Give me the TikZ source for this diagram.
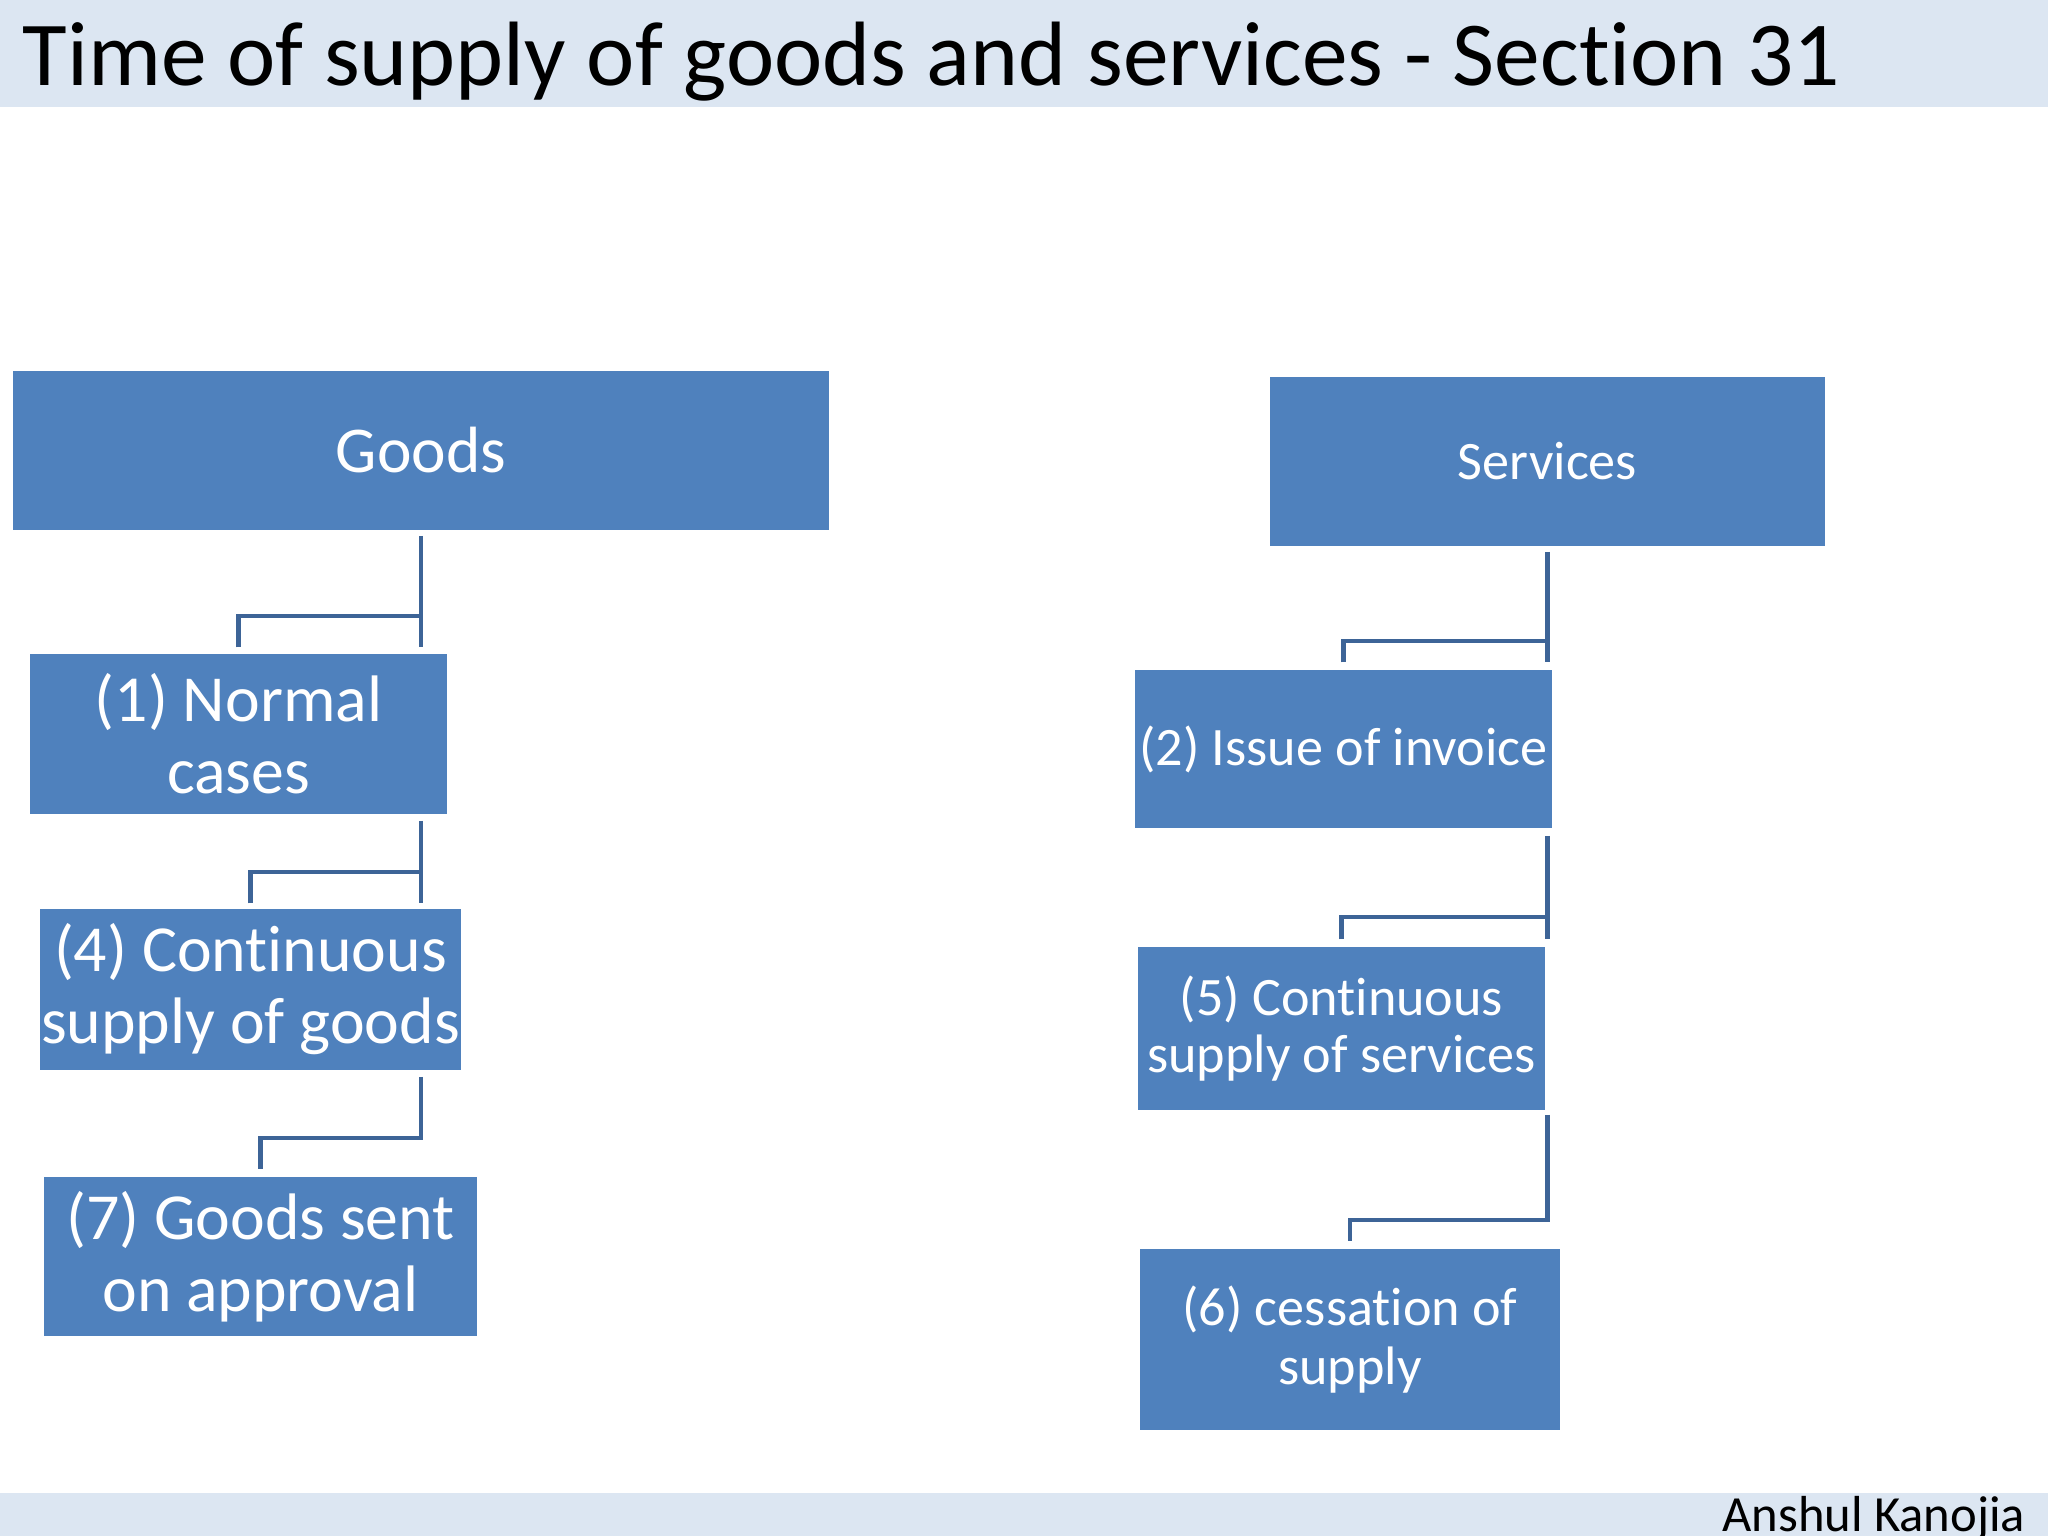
\documentclass[tikz,border=0pt]{standalone}
\usepackage{fontspec}
\setmainfont{Carlito}[Ligatures=NoCommon]
\usetikzlibrary{calc}

\definecolor{boxblue}{HTML}{4F81BD}
\definecolor{linkblue}{HTML}{3D6497}
\definecolor{bandblue}{HTML}{DCE6F2}

\tikzset{
  box/.style={fill=boxblue,text=white,inner sep=0pt,align=center},
  link/.style={draw=linkblue,line width=1.2pt}
}

\begin{document}
\begin{tikzpicture}[x=0.01cm,y=-0.01cm]
      \useasboundingbox (0,0) rectangle (2048,1536);
      \fill[white] (0,0) rectangle (2048,1536);
      \fill[bandblue] (0,0) rectangle (2048,107);
      \fill[bandblue] (0,1493) rectangle (2048,1536);
      \node[anchor=base west,inner sep=0pt,font=\fontsize{26}{30}\selectfont] (title) at (22,85) {Time of supply of goods and services - Section 31};
      \node[anchor=base east,inner sep=0pt,font=\fontsize{14.4}{16}\selectfont] (author) at (2026,1531) {Anshul Kanojia};
      % goods side
      \node[box,minimum width=8.16cm,minimum height=1.59cm,font=\fontsize{18.6}{22}\selectfont] (goods) at (421,450.5) {Goods};
      \node[box,minimum width=4.17cm,minimum height=1.60cm,font=\fontsize{18.7}{20.5}\selectfont] (normal) at (238.5,734) {(1) Normal\\cases};
      \node[box,minimum width=4.21cm,minimum height=1.61cm,font=\fontsize{18.7}{20.5}\selectfont] (contgoods) at (250.5,989.5) {(4) Continuous\\supply of goods};
      \node[box,minimum width=4.33cm,minimum height=1.59cm,font=\fontsize{18.7}{20.5}\selectfont] (approval) at (260.5,1256.5) {(7) Goods sent\\on approval};
      % services side
      \node[box,minimum width=5.55cm,minimum height=1.69cm,font=\fontsize{15.4}{19}\selectfont] (services) at (1547.5,461.5) {Services};
      \node[box,minimum width=4.17cm,minimum height=1.58cm,font=\fontsize{15.4}{19}\selectfont] (invoice) at (1343.5,749) {(2) Issue of invoice};
      \node[box,minimum width=4.07cm,minimum height=1.63cm,font=\fontsize{15.4}{16.4}\selectfont] (contserv) at (1341.5,1028.5) {(5) Continuous\\supply of services};
      \node[box,minimum width=4.20cm,minimum height=1.81cm,font=\fontsize{15.4}{17}\selectfont] (cessation) at (1350,1339.5) {(6) cessation of\\supply};
      % connectors
      \draw[link] ($(goods.south)+(0,5)$) -- ($(goods.south |- normal.north)+(0,-6)$);
      \draw[link] ($(normal.north)+(0,-6)$) |- ($(goods.south)+(0,85)$);
      \draw[link] ($(goods.south |- normal.south)+(0,6)$) -- ($(goods.south |- contgoods.north)+(0,-5)$);
      \draw[link] ($(contgoods.north)+(0,-5)$) |- ($(goods.south |- normal.south)+(0,57)$);
      \draw[link] ($(goods.south |- contgoods.south)+(0,6)$) -- ($(goods.south |- approval.north)+(0,-38)$) -| ($(approval.north)+(0,-7)$);
      \draw[link] ($(services.south)+(0,5)$) -- ($(services.south |- invoice.north)+(0,-7)$);
      \draw[link] ($(invoice.north)+(0,-7)$) |- ($(services.south)+(0,94)$);
      \draw[link] ($(services.south |- invoice.south)+(0,7)$) -- ($(services.south |- contserv.north)+(0,-7)$);
      \draw[link] ($(contserv.north)+(0,-7)$) |- ($(services.south |- contserv.north)+(0,-29)$);
      \draw[link] ($(services.south |- contserv.south)+(0,4)$) -- ($(services.south |- cessation.north)+(0,-28)$) -| ($(cessation.north)+(0,-7)$);
    \end{tikzpicture}
\end{document}
